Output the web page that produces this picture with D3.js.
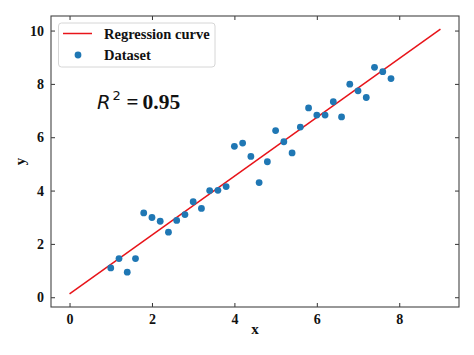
<!DOCTYPE html>
<html><head><meta charset="utf-8">
<script src="https://cdn.jsdelivr.net/npm/d3@7"></script>
<style>body{margin:0;background:#fff}</style>
</head><body>
<svg id="c" width="474" height="355"></svg>
<script>
const xValues = [1.0,1.2,1.4,1.6,1.8,2.0,2.2,2.4,2.6,2.8,3.0,3.2,3.4,3.6,3.8,4.0,4.2,4.4,4.6,4.8,5.0,5.2,5.4,5.6,5.8,6.0,6.2,6.4,6.6,6.8,7.0,7.2,7.4,7.6,7.8];
const yValues = [1.10,1.45,0.94,1.45,3.16,2.99,2.85,2.44,2.88,3.10,3.58,3.33,4.00,4.01,4.15,5.66,5.78,5.28,4.30,5.08,6.25,5.83,5.41,6.38,7.10,6.83,6.83,7.33,6.76,7.99,7.74,7.49,8.62,8.46,8.20];
const lineX = [0, 9];
const lineY = [0.13, 10.05];
const xTicks = [0,2,4,6,8];
const yTicks = [0,2,4,6,8,10];

const svg = d3.select("#c");
const L = 51, R = 459, T = 16, B = 307;
const xs = d3.scaleLinear().domain([-0.45, 9.45]).range([L, R]);
const ys = d3.scaleLinear().domain([lineY[0] - 0.496, lineY[1] + 0.496]).range([B, T]);
const serif = "'Liberation Serif','Times New Roman',serif";

// axes
const gx = svg.append("g").attr("transform", `translate(0,${B})`)
  .call(d3.axisBottom(xs).tickValues(xTicks).tickFormat(d3.format("d")).tickSizeInner(-4).tickSizeOuter(0).tickPadding(7));
const gxt = svg.append("g").attr("transform", `translate(0,${T})`)
  .call(d3.axisTop(xs).tickValues(xTicks).tickFormat("").tickSizeInner(-4).tickSizeOuter(0));
const gy = svg.append("g").attr("transform", `translate(${L},0)`)
  .call(d3.axisLeft(ys).tickValues(yTicks).tickFormat(d3.format("d")).tickSizeInner(-4).tickSizeOuter(0).tickPadding(7));
const gyr = svg.append("g").attr("transform", `translate(${R},0)`)
  .call(d3.axisRight(ys).tickValues(yTicks).tickFormat("").tickSizeInner(-4).tickSizeOuter(0));
[gx,gxt,gy,gyr].forEach(g => {
  g.selectAll(".domain").remove();
  g.selectAll("line").attr("stroke", "#333").attr("stroke-width", 1);
  g.selectAll("text").attr("font-family", serif).attr("font-weight", "bold").attr("font-size", 14).attr("fill", "#111");
});
svg.append("rect").attr("x", L).attr("y", T).attr("width", R - L).attr("height", B - T)
  .attr("fill", "none").attr("stroke", "#444").attr("stroke-width", 1.1);

// regression line
svg.append("line").attr("x1", xs(lineX[0])).attr("y1", ys(lineY[0]))
  .attr("x2", xs(lineX[1])).attr("y2", ys(lineY[1]))
  .attr("stroke", "#e8141a").attr("stroke-width", 1.5);

// points
svg.append("g").selectAll("circle").data(xValues).join("circle")
  .attr("cx", (d) => xs(d)).attr("cy", (d, i) => ys(yValues[i])).attr("r", 3.4)
  .attr("fill", "#1f77b4");

// legend
svg.append("rect").attr("x", 58.5).attr("y", 23).attr("width", 156.5).attr("height", 44).attr("rx", 3)
  .attr("fill", "#fff").attr("fill-opacity", 0.8).attr("stroke", "#d6d6d6").attr("stroke-width", 1);
svg.append("line").attr("x1", 63).attr("x2", 92).attr("y1", 33.5).attr("y2", 33.5)
  .attr("stroke", "#e8141a").attr("stroke-width", 1.5);
svg.append("circle").attr("cx", 78).attr("cy", 55).attr("r", 3.4).attr("fill", "#1f77b4");
svg.append("text").attr("x", 104).attr("y", 38.5).text("Regression curve")
  .attr("font-family", serif).attr("font-weight", "bold").attr("font-size", 14.5).attr("fill", "#111");
svg.append("text").attr("x", 104).attr("y", 59.5).text("Dataset")
  .attr("font-family", serif).attr("font-weight", "bold").attr("font-size", 14.5).attr("fill", "#111");

// R^2 annotation
const ann = svg.append("g").attr("fill", "#111");
ann.append("text").attr("x", 97).attr("y", 109).text("R")
  .attr("font-family", "'DejaVu Sans',sans-serif").attr("font-style", "italic").attr("font-size", 19.5);
ann.append("text").attr("x", 112.5).attr("y", 100).text("2")
  .attr("font-family", "'DejaVu Sans',sans-serif").attr("font-size", 13);
ann.append("text").attr("x", 126.5).attr("y", 109).text("=")
  .attr("font-family", serif).attr("font-weight", "bold").attr("font-size", 21);
ann.append("text").attr("x", 142.5).attr("y", 109).text("0.95")
  .attr("font-family", serif).attr("font-weight", "bold").attr("font-size", 21.5);

// axis labels
svg.append("text").attr("x", (L + R) / 2).attr("y", 334).attr("text-anchor", "middle").text("x")
  .attr("font-family", serif).attr("font-weight", "bold").attr("font-size", 15).attr("fill", "#111");
svg.append("text").attr("transform", `translate(25,${(T + B) / 2}) rotate(-90)`).attr("text-anchor", "middle").text("y")
  .attr("font-family", serif).attr("font-weight", "bold").attr("font-size", 15).attr("fill", "#111");
</script>
</body></html>
